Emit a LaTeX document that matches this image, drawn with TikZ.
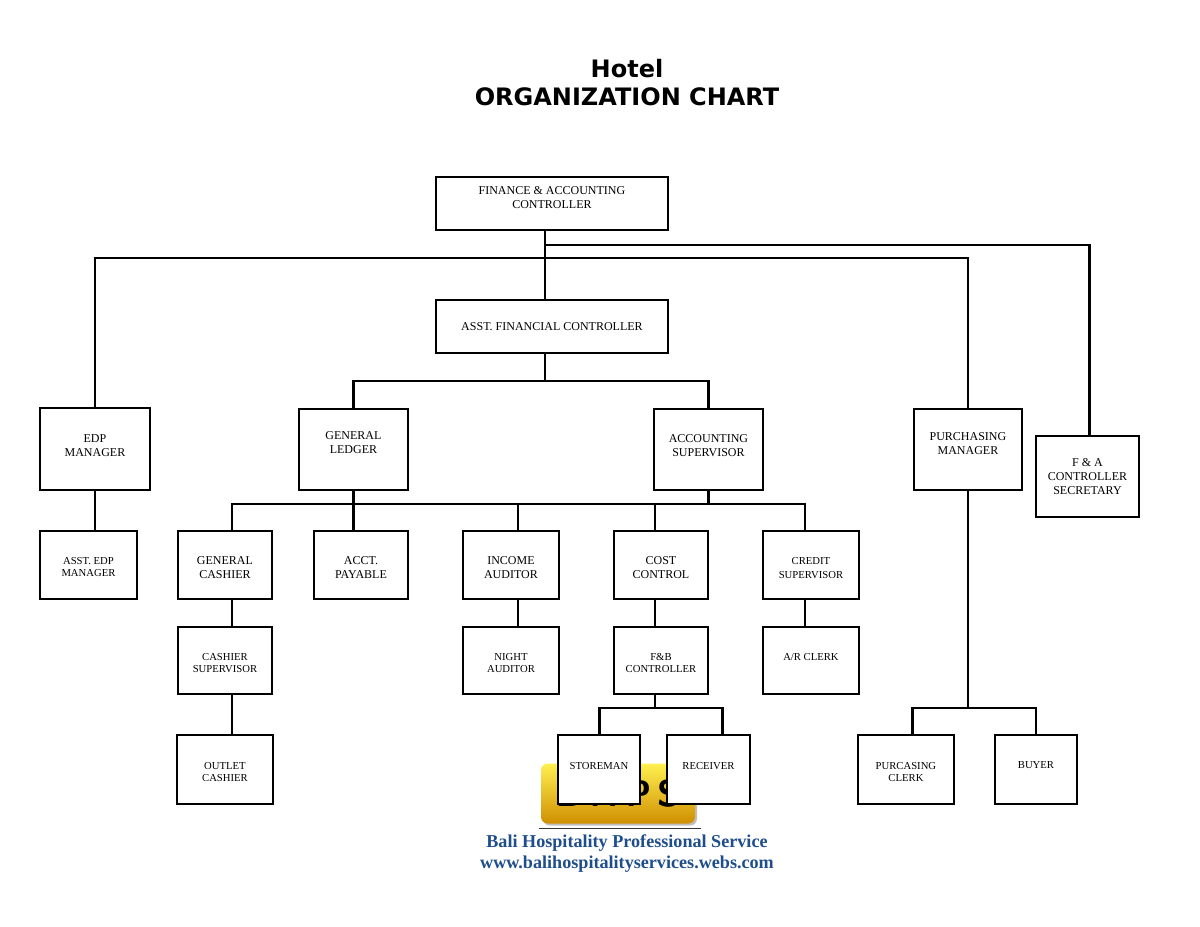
\documentclass[tikz,border=0pt]{standalone}
\usepackage{fontspec}
\setmainfont{Liberation Serif}
\newfontfamily\titlefont{DejaVu Sans}
\usetikzlibrary{positioning, calc, shadows}
\definecolor{creditblue}{HTML}{1F4E8C}
\definecolor{logotop}{HTML}{FFF050}
\definecolor{logomid}{HTML}{F8BE10}
\definecolor{logolow}{HTML}{D08F00}

\begin{document}
\begin{tikzpicture}[
    x=0.75pt, y=-0.75pt,
    org box/.style={draw, fill=white, line width=1.6pt, outer sep=0pt, inner sep=0pt, align=center,
        xshift=-0.4pt, yshift=0.4pt, font=\fontsize{9}{10.5}\selectfont},
    small box/.style={org box, font=\fontsize{8}{9}\selectfont},
    size/.style 2 args={minimum width=#1*0.75pt-0.75pt, minimum height=#2*0.75pt-0.75pt},
    lift/.style={text depth=#1*1.5pt},
    drop/.style={text height=#1pt},
    connection/.style={line width=1.6pt}
]
\useasboundingbox (0,0) rectangle (1200,927);

% Title
\node[font=\titlefont\fontsize{18}{21}\selectfont\bfseries, align=center] (title) at (627,83) {Hotel\\ORGANIZATION CHART};

% Logo behind the bottom boxes
\node[rounded corners=5pt, top color=logotop, middle color=logomid, bottom color=logolow,
      minimum width=154*0.75pt, minimum height=60*0.75pt, outer sep=0pt, inner sep=0pt,
      drop shadow={shadow xshift=1.5pt, shadow yshift=-1.5pt, fill=black!50},
      font=\sffamily\bfseries\fontsize{28}{28}\selectfont] (logo) at (618,793.5) {\raisebox{-5pt}{B\,H\,P\,S}};
\coordinate (ruleL) at (539,828);
\coordinate (ruleR) at (701,828);
\draw[line width=0.6pt, black!80] (ruleL) -- (ruleR);
\node[font=\bfseries\fontsize{13.6}{15.75}\selectfont, text=creditblue, align=center] (credit) at (627,854)
    {Bali Hospitality Professional Service\\www.balihospitalityservices.webs.com};

% Top levels
\node[org box, size={233}{54}, lift=5.5] (fac) at (552.5,204) {FINANCE \& ACCOUNTING\\CONTROLLER};
\node[org box, size={233}{54}] (afc) at (552.5,327) {ASST. FINANCIAL CONTROLLER};

% Managers
\node[org box, size={111}{83}, lift=3.5] (edp) at (95.5,449.5) {EDP\\MANAGER};
\node[org box, size={110}{82}, lift=7] (gl) at (354,450) {GENERAL\\LEDGER};
\node[org box, size={110}{82}, lift=4] (acs) at (709,450) {ACCOUNTING\\SUPERVISOR};
\node[org box, size={109}{82}, lift=6] (pm) at (968.5,450) {PURCHASING\\MANAGER};
\node[org box, size={104}{82}] (sec) at (1088,477) {F \& A\\CONTROLLER\\SECRETARY};

% Second row
\node[small box, size={98}{69}, drop=18] (aem) at (89,565.5) {ASST. EDP\\MANAGER};
\node[org box, size={95}{69}, drop=21] (gc) at (225.5,565.5) {GENERAL\\CASHIER};
\node[org box, size={95}{69}, drop=21] (ap) at (361.5,565.5) {ACCT.\\PAYABLE};
\node[org box, size={97}{69}, drop=21] (ia) at (511.5,565.5) {INCOME\\AUDITOR};
\node[org box, size={95}{69}, drop=21] (cc) at (661.5,565.5) {COST\\CONTROL};
\node[org box, font=\fontsize{8}{10.5}\selectfont, size={97}{69}, drop=21] (cs) at (811.5,565.5) {CREDIT\\SUPERVISOR};

% Third row
\node[small box, size={95}{68}, drop=18] (csv) at (225.5,661) {CASHIER\\SUPERVISOR};
\node[small box, size={97}{68}, drop=18] (na) at (511.5,661) {NIGHT\\AUDITOR};
\node[small box, size={95}{68}, drop=18] (fb) at (661.5,661) {F\&B\\CONTROLLER};
\node[small box, size={97}{68}, lift=4] (ar) at (811.5,661) {A/R CLERK};

% Bottom row
\node[small box, size={97}{70}, drop=18] (oc) at (225.5,770) {OUTLET\\CASHIER};
\node[small box, size={83}{70}, lift=4] (store) at (599.5,770) {STOREMAN};
\node[small box, size={84}{70}, lift=4] (rec) at (709,770) {RECEIVER};
\node[small box, size={97}{70}, drop=18] (pc) at (906.5,770) {PURCASING\\CLERK};
\node[small box, size={83}{70}, lift=4] (buy) at (1036.5,770) {BUYER};

% Bus lines
\coordinate (topbus) at (545,258);
\coordinate (secbus) at (545,245);
\coordinate (afcbus) at (545,381);
\coordinate (midbus) at (232,504);
\coordinate (fbbus) at (655,708);
\coordinate (pmbus) at (968,708);

% Finance controller and direct reports
\draw[connection] (fac.south -| topbus) -- (afc.north -| topbus);
\draw[connection] (edp.north) |- (topbus) -| (pm.north);
\draw[connection] (secbus) -| ($(sec.north)+(2,0)$);

% Assistant controller
\draw[connection] (afc.south -| afcbus) -- (afcbus);
\draw[connection] (gl.north) |- (afcbus) -| (acs.north);

% Ledger and accounting staff
\draw[connection] (gl.south) -- (ap.north -| gl.south);
\draw[connection] (acs.south) -- (acs.south |- midbus);
\draw[connection] (gc.north -| midbus) -- (midbus) -- (midbus -| 805,0) -- (cs.north -| 805,0);
\draw[connection] (midbus -| 518,0) -- (ia.north -| 518,0);
\draw[connection] (midbus -| 655,0) -- (cc.north -| 655,0);

% Vertical reports
\draw[connection] (edp.south) -- (aem.north -| edp.south);
\draw[connection] (gc.south -| midbus) -- (csv.north -| midbus);
\draw[connection] (csv.south -| midbus) -- (oc.north -| midbus);
\draw[connection] (ia.south -| 518,0) -- (na.north -| 518,0);
\draw[connection] (cc.south -| 655,0) -- (fb.north -| 655,0);
\draw[connection] (cs.south -| 805,0) -- (ar.north -| 805,0);

% F&B and purchasing staff
\draw[connection] (fb.south -| fbbus) -- (fbbus);
\draw[connection] ($(store.north)+(0.5,0)$) |- (fbbus) -| ($(rec.north)+(14,0)$);
\draw[connection] (pm.south) -- (pm.south |- pmbus);
\draw[connection] ($(pc.north)+(6.5,0)$) |- (pmbus) -| (buy.north);
\end{tikzpicture}
\end{document}
